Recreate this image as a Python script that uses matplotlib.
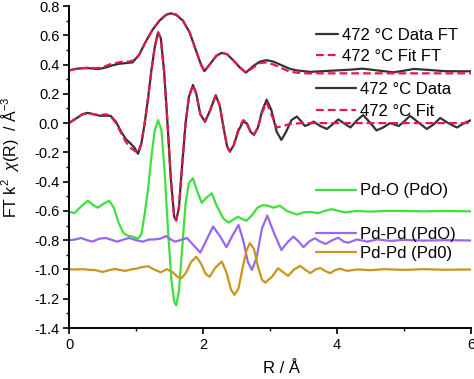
import matplotlib
matplotlib.use("Agg")
import matplotlib.pyplot as plt
from matplotlib.ticker import MultipleLocator

plt.rcParams['font.family'] = ['Liberation Sans', 'DejaVu Sans']
plt.rcParams['mathtext.fontset'] = 'custom'
plt.rcParams['mathtext.rm'] = 'Liberation Sans'
plt.rcParams['mathtext.it'] = 'Liberation Sans:italic'
plt.rcParams['axes.unicode_minus'] = False

# ---- data ----
r_data_ft = [0.0, 0.1, 0.2, 0.3, 0.4, 0.45, 0.55, 0.65, 0.75, 0.85, 0.95, 1.05, 1.15, 1.25, 1.35,
             1.45, 1.52, 1.6, 1.7, 1.8, 1.9, 1.97, 2.02, 2.1, 2.2, 2.28, 2.36, 2.45, 2.55, 2.64,
             2.75, 2.85, 2.95, 3.05, 3.15, 3.3, 3.4, 3.6, 3.8, 4.0, 4.2, 4.38, 4.6, 4.84, 5.0,
             5.15, 5.4, 5.6, 5.8, 6.0]
data_ft = [0.36, 0.37, 0.375, 0.375, 0.37, 0.37, 0.38, 0.395, 0.405, 0.41, 0.415, 0.47, 0.56, 0.64,
           0.70, 0.74, 0.75, 0.74, 0.70, 0.62, 0.49, 0.40, 0.355, 0.40, 0.46, 0.48, 0.47, 0.43, 0.38,
           0.345, 0.39, 0.42, 0.43, 0.42, 0.40, 0.37, 0.36, 0.35, 0.355, 0.36, 0.365, 0.372, 0.36,
           0.347, 0.358, 0.37, 0.362, 0.355, 0.354, 0.354]

r_fit_ft = [0.0, 0.1, 0.2, 0.3, 0.4, 0.5, 0.6, 0.7, 0.8, 0.9, 1.0, 1.05, 1.15, 1.25, 1.35, 1.45,
            1.52, 1.6, 1.7, 1.8, 1.9, 1.97, 2.02, 2.1, 2.2, 2.28, 2.36, 2.45, 2.55, 2.64, 2.75,
            2.85, 2.95, 3.05, 3.15, 3.3, 3.5, 4.0, 4.5, 5.0, 5.5, 6.0]
fit_ft = [0.36, 0.37, 0.375, 0.38, 0.375, 0.38, 0.40, 0.41, 0.42, 0.42, 0.435, 0.47, 0.56, 0.64,
          0.70, 0.74, 0.75, 0.74, 0.70, 0.62, 0.49, 0.40, 0.355, 0.40, 0.46, 0.48, 0.47, 0.43,
          0.38, 0.345, 0.38, 0.41, 0.415, 0.40, 0.38, 0.35, 0.34, 0.34, 0.34, 0.34, 0.34, 0.34]

r_data = [0.0, 0.1, 0.2, 0.28, 0.37, 0.46, 0.55, 0.62, 0.7, 0.78, 0.85, 0.92, 0.98, 1.03, 1.08,
          1.13, 1.18, 1.23, 1.28, 1.33, 1.37, 1.42, 1.47, 1.52, 1.57, 1.6, 1.64, 1.69, 1.74, 1.79,
          1.85, 1.9, 1.96, 2.03, 2.1, 2.19, 2.25, 2.31, 2.36, 2.40, 2.46, 2.53, 2.6, 2.65, 2.71,
          2.76, 2.82, 2.88, 2.95, 3.02, 3.1, 3.17, 3.24, 3.32, 3.40, 3.47, 3.52, 3.58, 3.65, 3.75,
          3.85, 3.93, 4.02, 4.1, 4.2, 4.3, 4.39, 4.48, 4.59, 4.69, 4.79, 4.86, 4.92, 5.0, 5.09,
          5.2, 5.34, 5.44, 5.54, 5.66, 5.79, 5.9, 6.0]
data = [0.0, 0.03, 0.06, 0.07, 0.06, 0.05, 0.05, 0.05, 0.01, -0.06, -0.11, -0.14, -0.17, -0.21,
        -0.14, 0.0, 0.17, 0.36, 0.52, 0.62, 0.58, 0.35, 0.0, -0.38, -0.64, -0.665, -0.58, -0.28,
        0.0, 0.18, 0.26, 0.20, 0.06, 0.01, 0.08, 0.19, 0.12, -0.04, -0.16, -0.195, -0.15, -0.05,
        0.01, 0.0, -0.06, -0.08, -0.03, 0.08, 0.16, 0.09, -0.06, -0.115, -0.06, 0.02, 0.045,
        0.01, -0.02, -0.01, 0.01, -0.02, -0.04, -0.01, 0.025, 0.0, -0.03, 0.02, 0.055, 0.01,
        -0.05, -0.03, 0.0, -0.01, -0.02, 0.01, 0.05, 0.01, -0.04, -0.01, 0.035, 0.0, -0.03,
        0.0, 0.02]

r_fit = [0.0, 0.1, 0.2, 0.28, 0.37, 0.46, 0.55, 0.62, 0.7, 0.78, 0.85, 0.92, 0.98, 1.03, 1.08,
         1.13, 1.18, 1.23, 1.28, 1.33, 1.37, 1.42, 1.47, 1.52, 1.57, 1.6, 1.64, 1.69, 1.74, 1.79,
         1.85, 1.9, 1.96, 2.03, 2.1, 2.19, 2.25, 2.31, 2.36, 2.40, 2.46, 2.53, 2.6, 2.65, 2.71,
         2.76, 2.82, 2.88, 2.95, 3.02, 3.1, 3.2, 3.3, 3.5, 4.0, 4.5, 5.0, 5.5, 6.0]
fit = [0.0, 0.03, 0.06, 0.07, 0.06, 0.055, 0.06, 0.05, 0.0, -0.07, -0.13, -0.17, -0.19, -0.20,
       -0.14, 0.0, 0.17, 0.36, 0.52, 0.62, 0.58, 0.35, 0.0, -0.38, -0.64, -0.665, -0.58, -0.28,
       0.0, 0.18, 0.26, 0.20, 0.06, 0.01, 0.08, 0.19, 0.12, -0.04, -0.16, -0.195, -0.15, -0.04,
       0.02, 0.01, -0.06, -0.08, -0.03, 0.07, 0.14, 0.06, -0.03, -0.02, -0.005, 0.0, 0.0, 0.0,
       0.0, 0.0, 0.0]

r_pdo_o = [0.0, 0.08, 0.18, 0.28, 0.36, 0.43, 0.52, 0.6, 0.67, 0.74, 0.81, 0.88, 0.95, 1.03,
           1.08, 1.13, 1.18, 1.23, 1.28, 1.33, 1.38, 1.43, 1.48, 1.53, 1.57, 1.6, 1.64, 1.69,
           1.74, 1.79, 1.85, 1.91, 1.98, 2.05, 2.13, 2.2, 2.3, 2.38, 2.45, 2.52, 2.58, 2.65,
           2.73, 2.82, 2.9, 2.97, 3.05, 3.15, 3.25, 3.4, 3.5, 3.6, 3.72, 3.82, 3.92, 4.02, 4.12,
           4.3, 4.5, 4.7, 5.0, 5.3, 5.6, 6.0]
pdo_o = [-0.605, -0.615, -0.57, -0.53, -0.56, -0.578, -0.55, -0.53, -0.58, -0.68, -0.75, -0.77,
         -0.775, -0.79, -0.76, -0.62, -0.45, -0.23, -0.05, 0.02, -0.05, -0.35, -0.75, -1.08,
         -1.22, -1.245, -1.15, -0.85, -0.55, -0.41, -0.377, -0.46, -0.545, -0.51, -0.48, -0.56,
         -0.65, -0.68, -0.66, -0.64, -0.655, -0.667, -0.63, -0.575, -0.56, -0.565, -0.578,
         -0.565, -0.6, -0.625, -0.61, -0.607, -0.615, -0.6, -0.588, -0.6, -0.61, -0.6, -0.605,
         -0.6, -0.6, -0.603, -0.6, -0.603]

r_pdpd_o = [0.0, 0.1, 0.18, 0.27, 0.35, 0.45, 0.55, 0.65, 0.72, 0.82, 0.9, 1.0, 1.1, 1.2, 1.28,
            1.36, 1.45, 1.52, 1.58, 1.66, 1.76, 1.85, 1.96, 2.05, 2.15, 2.25, 2.35, 2.45, 2.53,
            2.6, 2.67, 2.73, 2.8, 2.88, 2.96, 3.05, 3.17, 3.27, 3.35, 3.43, 3.5, 3.58, 3.67,
            3.75, 3.83, 3.93, 4.02, 4.1, 4.17, 4.3, 4.45, 4.6, 4.8, 5.0, 5.3, 5.6, 6.0]
pdpd_o = [-0.80, -0.795, -0.785, -0.80, -0.81, -0.79, -0.785, -0.80, -0.81, -0.795, -0.785,
          -0.80, -0.81, -0.795, -0.795, -0.79, -0.772, -0.795, -0.81, -0.80, -0.785, -0.83,
          -0.885, -0.80, -0.707, -0.77, -0.848, -0.76, -0.696, -0.80, -0.95, -1.003, -0.92,
          -0.72, -0.632, -0.74, -0.867, -0.81, -0.776, -0.81, -0.848, -0.81, -0.787, -0.81,
          -0.826, -0.80, -0.783, -0.81, -0.817, -0.795, -0.81, -0.795, -0.805, -0.798, -0.803,
          -0.80, -0.802]

r_pdpd_0 = [0.0, 0.1, 0.2, 0.3, 0.4, 0.5, 0.6, 0.68, 0.76, 0.84, 0.92, 1.0, 1.08, 1.18, 1.27,
            1.37, 1.46, 1.55, 1.62, 1.68, 1.75, 1.82, 1.9, 1.97, 2.04, 2.1, 2.18, 2.28, 2.35,
            2.42, 2.47, 2.53, 2.6, 2.65, 2.7, 2.76, 2.82, 2.88, 2.93, 3.03, 3.12, 3.2, 3.27,
            3.36, 3.45, 3.52, 3.6, 3.68, 3.75, 3.82, 3.9, 3.97, 4.05, 4.15, 4.3, 4.5, 4.7, 5.0,
            5.3, 5.6, 6.0]
pdpd_0 = [-1.0, -1.0, -0.998, -1.002, -1.005, -1.017, -1.005, -0.997, -1.003, -1.01, -1.0,
          -0.995, -0.985, -0.978, -1.0, -1.02, -0.998, -1.02, -1.05, -1.06, -1.02, -0.95,
          -0.913, -0.96, -1.03, -1.05, -0.99, -0.946, -1.02, -1.14, -1.174, -1.13, -0.97,
          -0.87, -0.82, -0.86, -0.98, -1.07, -1.09, -1.05, -0.992, -1.02, -1.044, -1.0,
          -0.976, -1.0, -1.025, -1.0, -0.99, -1.01, -1.025, -1.005, -0.995, -1.01, -1.0,
          -1.005, -0.998, -1.003, -0.998, -1.002, -1.0]

labels_ft = ['472 °C Data FT', '472 °C Fit FT']
labels_chi = ['472 °C Data', '472 °C Fit']
label_pdo_o = 'Pd-O (PdO)'
labels_pdpd = ['Pd-Pd (PdO)', 'Pd-Pd (Pd0)']

# ---- styling ----
c_data = '#333333'
c_fit = '#e8174a'
c_green = '#3de03d'
c_purple = '#9b66ee'
c_gold = '#c9961c'

fig = plt.figure(figsize=(4.74, 3.79), dpi=100)
ax = fig.add_axes([69/474, 1 - 328/379, 402/474, 322/379])

kw = dict(lw=1.6, solid_joinstyle='round', solid_capstyle='round')
l1, = ax.plot(r_data_ft, data_ft, color=c_data, **kw)
l2, = ax.plot(r_fit_ft, fit_ft, color=c_fit, lw=1.6, ls=(0, (3.5, 1.8)))
l3, = ax.plot(r_data, data, color=c_data, **kw)
l4, = ax.plot(r_fit, fit, color=c_fit, lw=1.6, ls=(0, (3.5, 1.8)))
l5, = ax.plot(r_pdo_o, pdo_o, color=c_green, **kw)
l6, = ax.plot(r_pdpd_o, pdpd_o, color=c_purple, **kw)
l7, = ax.plot(r_pdpd_0, pdpd_0, color=c_gold, **kw)

ax.set_xlim(0, 6)
ax.set_ylim(-1.4, 0.8)
ax.xaxis.set_major_locator(MultipleLocator(2))
ax.xaxis.set_minor_locator(MultipleLocator(1))
ax.yaxis.set_major_locator(MultipleLocator(0.2))
ax.yaxis.set_minor_locator(MultipleLocator(0.1))
ax.yaxis.set_major_formatter(plt.FormatStrFormatter('%.1f'))
ax.spines['top'].set_visible(False)
ax.spines['right'].set_visible(False)
for s in ('left', 'bottom'):
    ax.spines[s].set_linewidth(1.4)
ax.tick_params(which='major', direction='out', length=4, width=1.2, labelsize=10.5, pad=3)
ax.tick_params(which='minor', direction='out', length=2.5, width=1.0)

ax.set_xlabel('R / Å', fontsize=12)
ax.xaxis.set_label_coords((281 - 69) / 402, (328 - 361) / 322)
ax.set_ylabel(r'FT k$^2$  $\chi$(R)  / Å$^{-3}$', fontsize=11.5)
ax.yaxis.set_label_coords((21 - 69) / 402, (328 - 157) / 322)

fs = 12
common = dict(frameon=False, fontsize=fs, loc='center left', borderpad=0, borderaxespad=0,
              handletextpad=0.25, labelspacing=0.35)
leg1 = ax.legend([l1, l2], labels_ft, bbox_to_anchor=(0.614, 0.876), handlelength=1.35, **common)
ax.add_artist(leg1)
leg2 = ax.legend([l3, l4], labels_chi, bbox_to_anchor=(0.614, 0.706), handlelength=2.4,
                 **dict(common, labelspacing=0.42))
ax.add_artist(leg2)
leg3 = ax.legend([l5], [label_pdo_o], bbox_to_anchor=(0.614, 0.4255), handlelength=2.4, **common)
ax.add_artist(leg3)
leg4 = ax.legend([l6, l7], labels_pdpd, bbox_to_anchor=(0.614, 0.262), handlelength=2.4,
                 **dict(common, labelspacing=0.25))

fig.savefig('out.png', dpi=100)
